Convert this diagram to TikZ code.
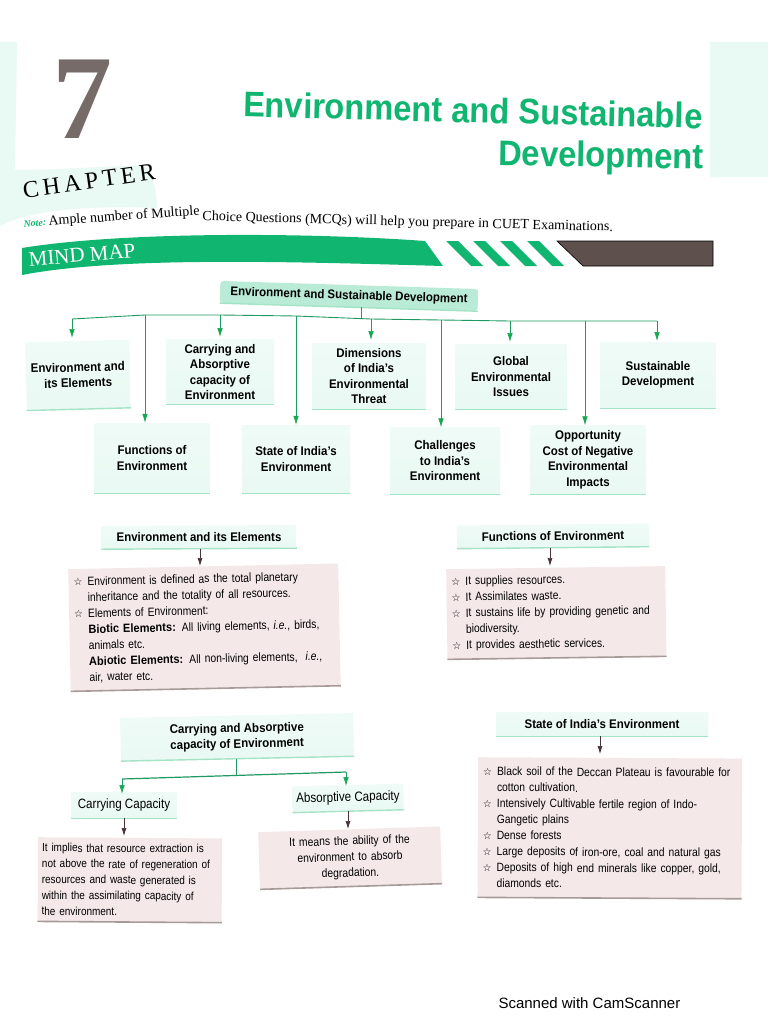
\documentclass[tikz,border=0pt]{standalone}
\usepackage{fontspec}
\setmainfont[FakeStretch=0.86,BoldFeatures={FakeStretch=0.92}]{Liberation Sans}
\newfontfamily\plainfont{Liberation Sans}
\newfontfamily\bookfont{Liberation Serif}
\newfontfamily\symfont{DejaVu Sans}
\usetikzlibrary{arrows.meta,positioning}
\definecolor{bandgreen}{HTML}{10B56F}
\definecolor{linegreen}{HTML}{1F9A63}
\definecolor{tipgreen}{HTML}{12A84F}
\definecolor{edgegreen}{HTML}{A5E3C6}
\definecolor{mintpale}{HTML}{E9F9F3}
\definecolor{mintmid}{HTML}{B9EBD6}
\definecolor{pinkbox}{HTML}{F5E8E9}
\definecolor{pinkedge}{HTML}{A89A98}
\definecolor{darkbar}{HTML}{5E514D}
\definecolor{darkline}{HTML}{4A3338}
\newcommand{\starmark}{\makebox[14pt][l]{\symfont\bfseries\fontsize{10}{10}\selectfont ☆}}
\newcommand{\hangmark}{\hspace*{14pt}}
\tikzset{
	topicbox/.style={top color=mintpale!70!white,bottom color=mintpale,align=center,inner sep=0pt,
		font=\bfseries\fontsize{12.5}{15.5}\selectfont,
		append after command={(\tikzlastnode.south west) edge[edgegreen,line width=1.4pt] (\tikzlastnode.south east)}},
	headbox/.style={topicbox},
	subbox/.style={topicbox,font=\fontsize{13.5}{15}\selectfont},
	notebox/.style={fill=pinkbox,align=left,inner xsep=5pt,inner ysep=0pt,anchor=north west,
		font=\fontsize{12}{16}\selectfont,
		append after command={(\tikzlastnode.south west) edge[pinkedge,line width=1.6pt] (\tikzlastnode.south east)}},
	branch/.style={linegreen,line width=0.7pt,-{Latex[length=9pt,width=5.5pt,color=tipgreen]}},
	drop/.style={darkline,line width=0.7pt,-{Latex[length=8pt,width=5pt]}},
	busline/.style={linegreen,line width=0.9pt},
}
\begin{document}
\begin{tikzpicture}[x=1pt,y=-1pt]
	\useasboundingbox[fill=white] (0,0) rectangle (768,1024);
	% page tints
	\fill[mintpale] (710,42) rectangle (768,177);
	\fill[mintpale] (0,42) -- (17,42) -- (15,170) .. controls (60,170) and (120,165) .. (143,166) .. controls (152,172) and (156,185) .. (157,208) .. controls (90,205) and (30,210) .. (0,226) -- cycle;
	% chapter heading
	\node[font=\bookfont\bfseries\fontsize{120}{120}\selectfont,text=darkbar!85!white] (num) at (82,99) {7};
	\node[font=\bookfont\fontsize{24}{24}\selectfont,rotate=8] (chap) at (89,181) {C\,H\,A\,P\,T\,E\,R};
	\node[font=\bfseries\fontsize{35.5}{38}\selectfont,text=bandgreen,rotate=-1.5] (title1) at (473,110) {Environment and Sustainable};
	\node[font=\bfseries\fontsize{35.5}{38}\selectfont,text=bandgreen,rotate=-1] (title2) at (601,158) {Development};
	\node[font=\bookfont\fontsize{14}{14}\selectfont,rotate=4,anchor=west] (note1) at (20,224) {{\color{bandgreen}\itshape\bfseries\fontsize{10}{12}\selectfont Note:}\,Ample number of Multiple};
	\node[font=\bookfont\fontsize{14}{14}\selectfont,rotate=-1.5,anchor=west] (note2) at (199,217) {Choice Questions (MCQs) will help you prepare in CUET Examinations.};
	% mind map band
	\fill[bandgreen] (22,248) .. controls (120,232) and (300,232) .. (425,241) -- (443,266) .. controls (300,262) and (120,256) .. (22,275) -- cycle;
	\node[font=\bookfont\fontsize{21}{21}\selectfont,text=white,rotate=5] (mind) at (82,255) {MIND MAP};
	\foreach \sx in {446,473,500,527}
		\fill[bandgreen] (\sx,241) -- (\sx+12,241) -- (\sx+37,266) -- (\sx+25,266) -- cycle;
	\draw[fill=darkbar,draw=black,line width=0.6pt] (557,241) -- (713,241) -- (713,266) -- (583,266) -- cycle;
	% top level
	\node[topicbox,top color=mintmid,bottom color=mintmid,rounded corners=3pt,minimum width=258pt,minimum height=22pt,rotate=-1.8] (root) at (349,296) {Environment and Sustainable Development};
	\node[topicbox,minimum width=104pt,minimum height=68pt,rotate=1.5] (envbox) at (78,375) {Environment and\\its Elements};
	\node[topicbox,minimum width=108pt,minimum height=65pt] (carrybox) at (220,372) {Carrying and\\Absorptive\\capacity of\\Environment};
	\node[topicbox,minimum width=113pt,minimum height=66pt] (dimbox) at (369,376) {Dimensions\\of India's\\Environmental\\Threat};
	\node[topicbox,minimum width=111pt,minimum height=65pt] (globalbox) at (511,377) {Global\\Environmental\\Issues};
	\node[topicbox,minimum width=115pt,minimum height=66pt] (sustbox) at (658,375) {Sustainable\\Development};
	\node[topicbox,minimum width=115pt,minimum height=70pt] (funcbox) at (152,458) {Functions of\\Environment};
	\node[topicbox,minimum width=108pt,minimum height=68pt] (statebox) at (296,459) {State of India's\\Environment};
	\node[topicbox,minimum width=110pt,minimum height=67pt] (challbox) at (445,461) {Challenges\\to India's\\Environment};
	\node[topicbox,minimum width=115pt,minimum height=69pt] (oppbox) at (588,460) {Opportunity\\Cost of Negative\\Environmental\\Impacts};
	\coordinate (tap1) at (72,319);
	\coordinate (tap2) at (145,315);
	\coordinate (tap3) at (220,315);
	\coordinate (tap4) at (296,316);
	\coordinate (rootjoin) at (361,319);
	\coordinate (tap5) at (371,319);
	\coordinate (tap6) at (441,320);
	\coordinate (tap7) at (510,321);
	\coordinate (tap8) at (585,321);
	\coordinate (tap9) at (657,321);
	\draw[busline] (root.south -| rootjoin) -- (rootjoin);
	\draw[busline] (tap1) -- (tap2) -- (tap3) -- (tap4) -- (tap5) -- (tap6) -- (tap7) -- (tap8) -- (tap9);
	\path[branch]
		(tap1) edge (72,338)
		(tap2) edge (tap2 |- funcbox.north)
		(tap3) edge (220,337)
		(tap4) edge (tap4 |- statebox.north)
		(tap5) edge (371,340)
		(tap6) edge (tap6 |- challbox.north)
		(tap7) edge (510,342)
		(tap8) edge (tap8 |- oppbox.north)
		(tap9) edge (657,341);
	% detail blocks
	\node[headbox,minimum width=195pt,minimum height=23pt,rotate=0.3] (envhead) at (199,537) {Environment and its Elements};
	\node[notebox,text width=260pt,minimum height=122pt,rotate=1.2] (envnote) at (68,569) {\starmark Environment is defined as the total planetary\\
		\hangmark inheritance and the totality of all resources.\\
		\starmark Elements of Environment:\\
		\hangmark\textbf{Biotic Elements:} All living elements, \textit{i.e.}, birds,\\
		\hangmark animals etc.\\
		\hangmark\textbf{Abiotic Elements:} All non-living elements, \ \textit{i.e.},\\
		\hangmark air, water etc.};
	\node[headbox,minimum width=192pt,minimum height=23pt,rotate=0.6] (funchead) at (553,536) {Functions of Environment};
	\node[notebox,text width=209pt,minimum height=90pt,rotate=0.8] (funcnote) at (446,569) {\starmark It supplies resources.\\
		\starmark It Assimilates waste.\\
		\starmark It sustains life by providing genetic and\\
		\hangmark biodiversity.\\
		\starmark It provides aesthetic services.};
	\node[headbox,minimum width=233pt,minimum height=43pt,rotate=1.2] (caphead) at (237,737) {Carrying and Absorptive\\capacity of Environment};
	\coordinate (capjoin) at (236,776);
	\coordinate (capleft) at (122,779);
	\coordinate (capright) at (346,772);
	\node[subbox,minimum width=105pt,minimum height=26pt] (carrysub) at (124,805) {Carrying Capacity};
	\node[subbox,minimum width=111pt,minimum height=26pt,rotate=1.5] (abssub) at (348,798) {Absorptive Capacity};
	\draw[busline] (caphead.south -| capjoin) -- (capjoin);
	\draw[busline,line width=1.2pt] (capleft) -- (capright);
	\path[branch] (capleft) edge (122,794) (capright) edge (346,786);
	\node[notebox,text width=176pt,minimum height=84pt,rotate=-0.4,inner xsep=4pt,font=\fontsize{11.6}{15.8}\selectfont] (carrynote) at (38,837) {It implies that resource extraction is\\
		not above the rate of regeneration of\\
		resources and waste generated is\\
		within the assimilating capacity of\\
		the environment.};
	\node[notebox,text width=172pt,minimum height=57pt,rotate=1.8,align=center] (absnote) at (258,832) {It means the ability of the\\
		environment to absorb\\
		degradation.};
	\node[headbox,minimum width=212pt,minimum height=24pt] (statehead) at (602,724) {State of India's Environment};
	\node[notebox,text width=254pt,minimum height=140pt,rotate=-0.3] (statenote) at (478,757) {\starmark Black soil of the Deccan Plateau is favourable for\\
		\hangmark cotton cultivation.\\
		\starmark Intensively Cultivable fertile region of Indo-\\
		\hangmark Gangetic plains\\
		\starmark Dense forests\\
		\starmark Large deposits of iron-ore, coal and natural gas\\
		\starmark Deposits of high end minerals like copper, gold,\\
		\hangmark diamonds etc.};
	\path[drop]
		(envhead.south -| 200,0) edge (200,566)
		(funchead.south -| 550,0) edge (550,566)
		(carrysub.south -| 124,0) edge (124,836)
		(abssub.south -| 348,0) edge (348,829)
		(statehead.south -| 600,0) edge (600,754);
	\node[font=\plainfont\fontsize{15}{16}\selectfont,anchor=west] (scan) at (495,1003) {Scanned with CamScanner};
\end{tikzpicture}
\end{document}
